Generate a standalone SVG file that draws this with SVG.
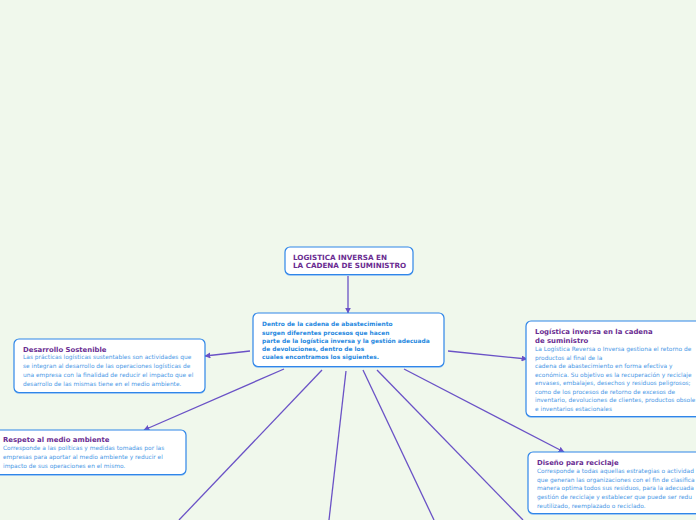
<svg xmlns="http://www.w3.org/2000/svg" width="696" height="520" viewBox="0 0 696 520">
<defs>
<style>
.box{fill:#ffffff;stroke:#2f86e8;stroke-width:1.2}
.shadow{fill:#9ec8f3}
.main{font-family:"DejaVu Sans",Verdana,sans-serif;font-weight:bold;font-size:7.2px;fill:#6a2c91}
.ctr{font-family:"DejaVu Sans",Verdana,sans-serif;font-weight:bold;font-size:5.9px;fill:#1f88e0}
.sub{font-family:"DejaVu Sans",Verdana,sans-serif;font-weight:bold;font-size:6.9px;fill:#6a2c91}
.body{font-family:"DejaVu Sans",Verdana,sans-serif;font-size:5.9px;fill:#4a98e6}
.con{fill:none;stroke:#6a52c6;stroke-width:1.3}
</style>
<marker id="arr" viewBox="0 0 10 10" refX="9" refY="5" markerWidth="6" markerHeight="6" markerUnits="userSpaceOnUse" orient="auto">
<path d="M0,0 L10,5 L0,10 z" fill="#6a52c6"/>
</marker>
</defs>
<rect width="696" height="520" fill="#f0f8ec"/>
<g id="connectors">
<line class="con" x1="348" y1="275" x2="348" y2="313" marker-end="url(#arr)"/>
<line class="con" x1="250" y1="351" x2="205" y2="356" marker-end="url(#arr)"/>
<line class="con" x1="448" y1="351" x2="527" y2="359" marker-end="url(#arr)"/>
<line class="con" x1="284" y1="369" x2="144" y2="430" marker-end="url(#arr)"/>
<line class="con" x1="404" y1="369" x2="564" y2="452" marker-end="url(#arr)"/>
<line class="con" x1="322" y1="370" x2="179" y2="520"/>
<line class="con" x1="346" y1="371" x2="329" y2="520"/>
<line class="con" x1="363" y1="370" x2="434" y2="520"/>
<line class="con" x1="377" y1="370" x2="523" y2="520"/>
</g>
<g id="root">
<rect class="shadow" x="285" y="248" width="128" height="28" rx="5"/>
<rect class="box" x="285" y="247" width="128" height="27.5" rx="5"/>
<text class="main" x="293" y="259.5">LOGISTICA INVERSA EN</text>
<text class="main" x="293" y="268">LA CADENA DE SUMINISTRO</text>
</g>
<g id="center">
<rect class="shadow" x="253" y="314" width="191" height="54" rx="5"/>
<rect class="box" x="253" y="313" width="191" height="53.5" rx="5"/>
<text class="ctr" x="262" y="326.3">Dentro de la cadena de abastecimiento</text>
<text class="ctr" x="262" y="334.5">surgen diferentes procesos que hacen</text>
<text class="ctr" x="262" y="342.7">parte de la logística inversa y la gestión adecuada</text>
<text class="ctr" x="262" y="351">de devoluciones, dentro de los</text>
<text class="ctr" x="262" y="359.2">cuales encontramos los siguientes.</text>
</g>
<g id="desarrollo">
<rect class="shadow" x="14" y="340" width="191" height="54" rx="5"/>
<rect class="box" x="14" y="339" width="191" height="53.5" rx="5"/>
<text class="sub" x="23" y="351.5">Desarrollo Sostenible</text>
<text class="body" x="23" y="359.3">Las prácticas logísticas sustentables son actividades que</text>
<text class="body" x="23" y="368.1">se integran al desarrollo de las operaciones logísticas de</text>
<text class="body" x="23" y="376.9">una empresa con la finalidad de reducir el impacto que el</text>
<text class="body" x="23" y="385.7">desarrollo de las mismas tiene en el medio ambiente.</text>
</g>
<g id="respeto">
<rect class="shadow" x="-10" y="431" width="196" height="45" rx="5"/>
<rect class="box" x="-10" y="430" width="196" height="44.5" rx="5"/>
<text class="sub" x="3" y="441.5">Respeto al medio ambiente</text>
<text class="body" x="3" y="450.3">Corresponde a las políticas y medidas tomadas por las</text>
<text class="body" x="3" y="458.9">empresas para aportar al medio ambiente y reducir el</text>
<text class="body" x="3" y="467.5">impacto de sus operaciones en el mismo.</text>
</g>
<g id="logistica">
<rect class="shadow" x="526" y="322" width="190" height="96" rx="5"/>
<rect class="box" x="526" y="321" width="190" height="95.5" rx="5"/>
<text class="sub" x="535" y="333.5">Logística inversa en la cadena</text>
<text class="sub" x="535" y="342.5">de suministro</text>
<text class="body" x="535" y="351.2">La Logística Reversa o Inversa gestiona el retorno de</text>
<text class="body" x="535" y="359.7">productos al final de la</text>
<text class="body" x="535" y="368.2">cadena de abastecimiento en forma efectiva y</text>
<text class="body" x="535" y="376.7">económica. Su objetivo es la recuperación y reciclaje</text>
<text class="body" x="535" y="385.2">envases, embalajes, desechos y residuos peligrosos;</text>
<text class="body" x="535" y="393.7">como de los procesos de retorno de excesos de</text>
<text class="body" x="535" y="402.2">inventario, devoluciones de clientes, productos obsole</text>
<text class="body" x="535" y="410.7">e inventarios estacionales</text>
</g>
<g id="diseno">
<rect class="shadow" x="528" y="453" width="190" height="62" rx="5"/>
<rect class="box" x="528" y="452" width="190" height="61.5" rx="5"/>
<text class="sub" x="537" y="464.5">Diseño para reciclaje</text>
<text class="body" x="537" y="473.2">Corresponde a todas aquellas estrategias o actividad</text>
<text class="body" x="537" y="481.8">que generan las organizaciones con el fin de clasifica</text>
<text class="body" x="537" y="490.4">manera optima todos sus residuos, para la adecuada</text>
<text class="body" x="537" y="499">gestión de reciclaje y establecer que puede ser redu</text>
<text class="body" x="537" y="507.6">reutilizado, reemplazado o reciclado.</text>
</g>
</svg>
